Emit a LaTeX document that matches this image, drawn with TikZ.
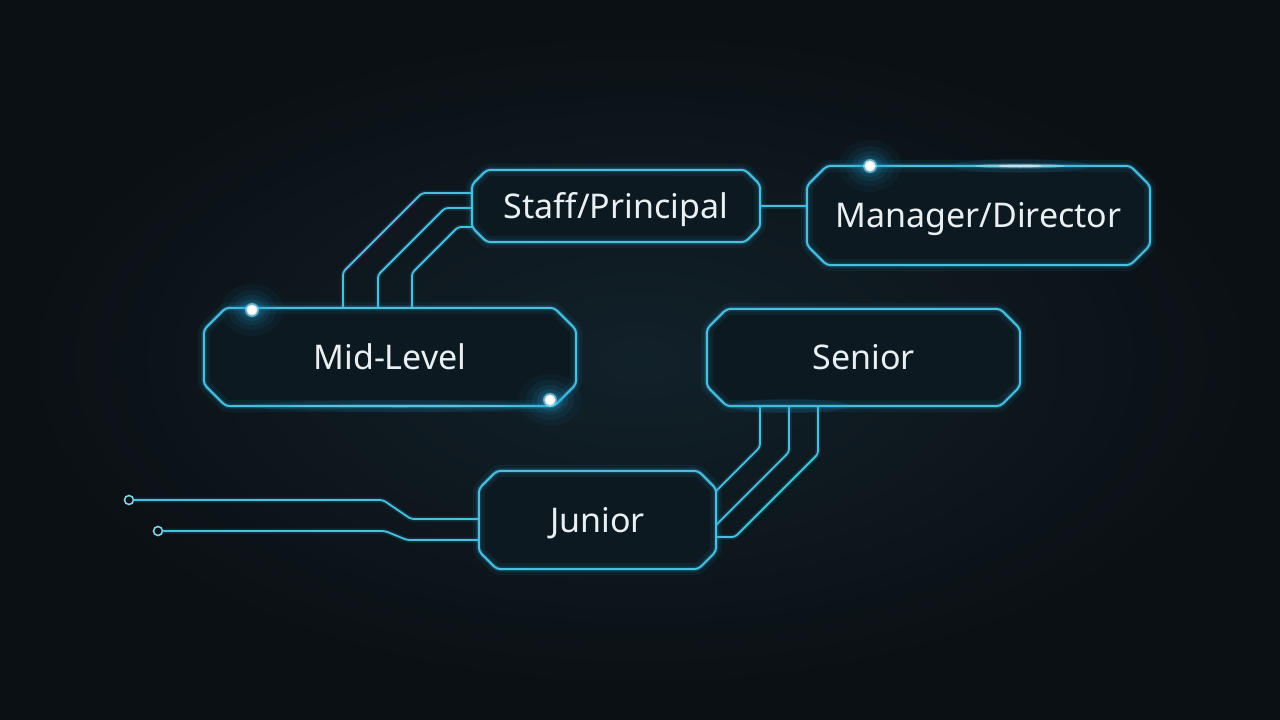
\documentclass[tikz,border=0pt]{standalone}
\usepackage{fontspec}
\setmainfont{Noto Sans}
\usetikzlibrary{calc}
\definecolor{bg}{HTML}{0B1014}
\definecolor{bgmid}{HTML}{11212A}
\definecolor{neon}{HTML}{4BBFDC}
\definecolor{glowc}{HTML}{1FA6E0}
\definecolor{txt}{HTML}{E8F0F4}
\definecolor{boxfill}{HTML}{0D1920}
\pgfdeclarelayer{back}
\pgfsetlayers{back,main}
\newcommand\chamferpath[2]{([xshift=#2]#1.north west) -- ([xshift=-#2]#1.north east) -- ([yshift=-#2]#1.north east) -- ([yshift=#2]#1.south east) -- ([xshift=-#2]#1.south east) -- ([xshift=#2]#1.south west) -- ([yshift=#2]#1.south west) -- ([yshift=-#2]#1.north west) -- cycle}
\newcommand\chambox[2]{%
  \fill[boxfill, rounded corners=4pt] \chamferpath{#1}{#2};
  \draw[glowc, opacity=0.08, line width=12pt, rounded corners=4pt] \chamferpath{#1}{#2};
  \draw[glowc, opacity=0.22, line width=5pt, rounded corners=4pt] \chamferpath{#1}{#2};
  \draw[neon, line width=2pt, rounded corners=4pt] \chamferpath{#1}{#2};}
\newcommand\sparkle[1]{%
  \foreach \r/\o in {26/0.05,20/0.07,15/0.09,11/0.13,8/0.18}{\fill[glowc, opacity=\o] #1 ellipse[x radius=\r*1.2, y radius=\r];}
  \fill[neon!50!white, opacity=0.6] #1 circle[radius=7];
  \fill[white, opacity=0.8] #1 circle[radius=5.5];
  \fill[white] #1 circle[radius=4];}
\begin{document}
\begin{tikzpicture}[x=1pt,y=-1pt,
  lvl/.style={inner sep=0pt, text=txt, text height=24pt, text depth=0pt, font=\fontsize{34}{40}\selectfont},
  wire/.style={neon, line width=1.8pt, rounded corners=3pt,
    preaction={draw, glowc, opacity=0.18, line width=5pt}},
  tip/.style={neon!70!white, line width=1.6pt}]
\useasboundingbox (0,0) rectangle (1280,720);

\node[lvl, minimum width=288pt, minimum height=72pt] (staff) at (616,206) {Staff/Principal};
\node[lvl, minimum width=343pt, minimum height=99pt] (manager) at (978.5,215.5) {Manager/Director};
\node[lvl, minimum width=372pt, minimum height=98pt] (mid) at (390,357) {Mid-Level};
\node[lvl, minimum width=313pt, minimum height=97pt] (senior) at (863.5,357.5) {Senior};
\node[lvl, minimum width=237pt, minimum height=98pt] (junior) at (597.5,520) {Junior};
\coordinate (t1) at (129,500);
\coordinate (t2) at (158,531);

\begin{pgfonlayer}{back}
\fill[bg] (0,0) rectangle (1280,720);
\shade[inner color=bgmid, outer color=bg] (640,360) ellipse[x radius=620, y radius=330];

% connectors
\draw[wire] (staff.east) -- (manager.west |- staff.east);
\draw[wire] (staff.west |- 0,193) -- (422,193) -- (343,272) -- (343,0 |- mid.north);
\draw[wire] (staff.west |- 0,208) -- (445,208) -- (378,275) -- (378,0 |- mid.north);
\draw[wire] (staff.west |- 0,227) -- (458,227) -- (412,273) -- (412,0 |- mid.north);
\draw[wire] (760,0 |- senior.south) -- (760,447) -- (junior.east |- 0,491);
\draw[wire] (789,0 |- senior.south) -- (789,452) -- (junior.east |- 0,525);
\draw[wire] (818,0 |- senior.south) -- (818,454) -- (735,537) -- (junior.east |- 0,537);
\draw[tip] (t1) circle[radius=4.5];
\draw[tip] (t2) circle[radius=4.5];
\draw[wire] ([xshift=4.5pt]t1) -- (383,500) -- (411,519) -- (junior.west |- 0,519);
\draw[wire] ([xshift=4.5pt]t2) -- (385,531) -- (407,540) -- (junior.west |- 0,540);

% boxes
\chambox{staff}{15pt}
\chambox{manager}{20pt}
\chambox{mid}{22pt}
\chambox{senior}{20pt}
\chambox{junior}{18pt}

% glows
\fill[glowc, opacity=0.10] (1020,166) ellipse[x radius=70, y radius=7];
\fill[white, opacity=0.25] (1020,166) ellipse[x radius=45, y radius=2.5];
\fill[white, opacity=0.5] (1020,166) ellipse[x radius=22, y radius=1.5];
\fill[glowc, opacity=0.12] (790,406) ellipse[x radius=60, y radius=7];
\fill[glowc, opacity=0.10] (400,406) ellipse[x radius=150, y radius=6];
\fill[neon!60!white, opacity=0.25] (400,406) ellipse[x radius=110, y radius=1.5];
\sparkle{(252,310)}
\sparkle{(550,400)}
\sparkle{(870,166)}
\end{pgfonlayer}
\end{tikzpicture}
\end{document}
